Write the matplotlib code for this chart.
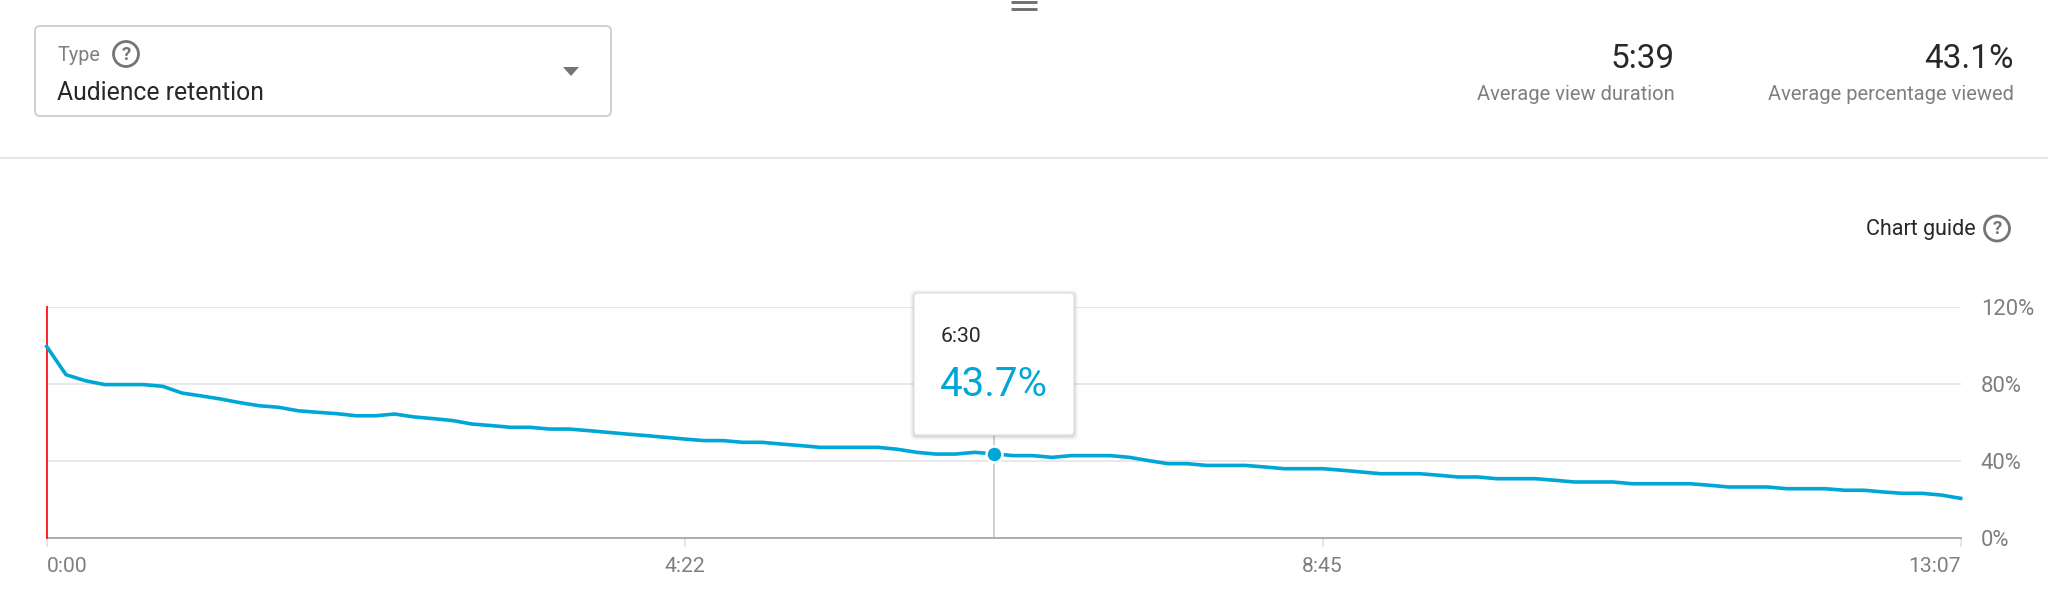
import matplotlib
matplotlib.use('Agg')
import matplotlib.pyplot as plt
from matplotlib.patches import FancyBboxPatch, Circle

plt.rcParams['font.family'] = ['Roboto', 'DejaVu Sans']

# one point per 1% of the video
retention = [99.5, 84.8, 81.7, 79.7, 79.7, 79.7, 78.8, 75.3, 73.8, 72.2,
             70.3, 68.7, 67.9, 66.1, 65.3, 64.6, 63.5, 63.5, 64.4, 62.9,
             62.0, 61.0, 59.2, 58.4, 57.5, 57.5, 56.6, 56.6, 55.8, 54.9,
             54.0, 53.2, 52.3, 51.4, 50.6, 50.6, 49.7, 49.7, 48.8, 48.0,
             47.1, 47.1, 47.1, 47.1, 46.1, 44.5, 43.6, 43.6, 44.5, 43.7,
             42.8, 42.8, 41.9, 42.8, 42.8, 42.8, 41.9, 40.2, 38.6, 38.6,
             37.7, 37.7, 37.7, 36.9, 36.0, 36.0, 36.0, 35.2, 34.3, 33.4,
             33.4, 33.4, 32.6, 31.7, 31.7, 30.8, 30.8, 30.8, 30.0, 29.1,
             29.1, 29.1, 28.2, 28.2, 28.2, 28.2, 27.4, 26.5, 26.5, 26.5,
             25.6, 25.6, 25.6, 24.8, 24.8, 23.9, 23.2, 23.2, 22.3, 20.6]
position = list(range(len(retention)))
y_ticks = [0, 40, 80, 120]
y_labels = ['0%', '40%', '80%', '120%']
x_ticks = [0, 33, 66, 99]
x_labels = ['0:00', '4:22', '8:45', '13:07']
hover_index = 49
hover_time = '6:30'
hover_value = '43.7%'

BLUE = '#00a6d6'
GREY = '#7f7f7f'
DARK = '#282828'
W, H = 2048, 601

fig = plt.figure(figsize=(W / 100, H / 100), dpi=100, facecolor='white')

# page furniture is placed in pixel coordinates
page = fig.add_axes([0, 0, 1, 1])
page.set_xlim(0, W)
page.set_ylim(H, 0)
page.axis('off')


def help_icon(cx, cy, r=12.5):
    page.add_patch(Circle((cx, cy), r, fc='white', ec='#757575', lw=2.0))
    page.text(cx, cy + 0.5, '?', color='#757575', fontsize=13.5, weight='bold',
              ha='center', va='center')


# hamburger icon cut off at the top
for y in [1.5, 8.5]:
    page.plot([1011, 1037], [y, y], color='#707070', lw=2.1, solid_capstyle='butt')

# type selector
page.add_patch(FancyBboxPatch((35, 26), 576, 90, boxstyle='round,pad=0,rounding_size=5',
                              fc='white', ec='#d0d0d0', lw=1.4))
page.text(57, 55.5, 'Type', color=GREY, fontsize=14.2, va='center')
help_icon(126, 54)
page.text(57, 93.5, 'Audience retention', color=DARK, fontsize=17.8, va='center')
page.fill([563, 579, 571], [67, 67, 76], color='#757575', lw=0)

# summary numbers
page.text(1675, 58.5, '5:39', color=DARK, fontsize=24, ha='right', va='center')
page.text(1675, 94, 'Average view duration', color=GREY, fontsize=14.5, ha='right', va='center')
page.text(2014, 58.5, '43.1%', color=DARK, fontsize=24, ha='right', va='center')
page.text(2014, 94, 'Average percentage viewed', color=GREY, fontsize=14.5, ha='right', va='center')
page.plot([0, W], [158, 158], color='#e3e3e3', lw=1.3)

page.text(1976, 229.5, 'Chart guide', color=DARK, fontsize=15.5, ha='right', va='center')
help_icon(1997, 228.5)

# chart
left, right, top, bottom = 46.7, 1960.7, 307, 538
ax = fig.add_axes([left / W, 1 - bottom / H, (right - left) / W, (bottom - top) / H])
ax.set_xlim(0, 99)
ax.set_ylim(0, 120)
ax.patch.set_alpha(0)
for name in ['top', 'left', 'right']:
    ax.spines[name].set_visible(False)
ax.spines['bottom'].set_color('#a8a8a8')
ax.spines['bottom'].set_linewidth(1.3)
ax.yaxis.tick_right()
ax.set_yticks(y_ticks)
ax.set_yticklabels(y_labels, color=GREY, fontsize=15.8)
ax.tick_params(axis='y', length=0, pad=14.5)
ax.set_xticks(x_ticks)
ax.set_xticklabels(x_labels, color=GREY, fontsize=15.2)
ax.tick_params(axis='x', length=6.7, width=1.1, color='#e0e0e0', pad=7)
labels = ax.get_xticklabels()
labels[0].set_ha('left')
labels[-1].set_ha('right')
ax.grid(axis='y', color='#e4e4e4', lw=1.2)
ax.set_axisbelow(True)
ax.axvline(0, color='#ff1010', lw=1.3, zorder=3, clip_on=False)

ax.axvline(hover_index, color='#c8c8c8', lw=1.2, zorder=2)
ax.plot(position, retention, color=BLUE, lw=2.6, zorder=4, solid_joinstyle='round', clip_on=False)
ax.plot([hover_index], [retention[hover_index]], 'o', color=BLUE, ms=11.5, mec='white', mew=1.8,
        zorder=5)

# hover card with a soft edge, on top of the chart
over = fig.add_axes([0, 0, 1, 1])
over.set_xlim(0, W)
over.set_ylim(H, 0)
over.axis('off')
for pad, alpha in [(4, 0.03), (2.5, 0.05), (1.2, 0.08)]:
    over.add_patch(FancyBboxPatch((914 - pad, 293 - pad + 1), 160 + 2 * pad, 142 + 2 * pad,
                                  boxstyle='round,pad=0,rounding_size=5', fc='black', ec='none',
                                  alpha=alpha))
over.add_patch(FancyBboxPatch((914, 293), 160, 142, boxstyle='round,pad=0,rounding_size=4',
                              fc='white', ec='#e2e2e2', lw=1))
over.text(941, 336.5, hover_time, color=DARK, fontsize=15.2, va='center')
over.text(940, 384, hover_value, color=BLUE, fontsize=29, va='center')

fig.savefig('out.png', dpi=100)
